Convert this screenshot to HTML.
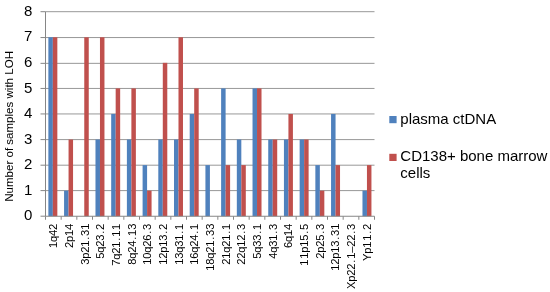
<!DOCTYPE html>
<html><head><meta charset="utf-8"><title>LOH chart</title>
<style>html,body{margin:0;padding:0;background:#fff}svg{display:block}text{font-family:"Liberation Sans",sans-serif;fill:#000;font-kerning:none}</style></head>
<body>
<svg width="550" height="292" viewBox="0 0 550 292">
<rect width="550" height="292" fill="#fff"/>
<g stroke="#989898" stroke-width="1" fill="none">
<line x1="45.5" y1="190.60" x2="374.5" y2="190.60"/>
<line x1="45.5" y1="165.20" x2="374.5" y2="165.20"/>
<line x1="45.5" y1="139.60" x2="374.5" y2="139.60"/>
<line x1="45.5" y1="113.95" x2="374.5" y2="113.95"/>
<line x1="45.5" y1="88.45" x2="374.5" y2="88.45"/>
<line x1="45.5" y1="63.35" x2="374.5" y2="63.35"/>
<line x1="45.5" y1="37.55" x2="374.5" y2="37.55"/>
<line x1="45.5" y1="11.70" x2="374.5" y2="11.70"/>
</g>
<g fill="#4F81BD">
<rect x="48.37" y="37.27" width="4.49" height="178.98"/>
<rect x="64.07" y="190.68" width="4.49" height="25.57"/>
<rect x="95.48" y="139.54" width="4.49" height="76.71"/>
<rect x="111.19" y="113.97" width="4.49" height="102.28"/>
<rect x="126.89" y="139.54" width="4.49" height="76.71"/>
<rect x="142.60" y="165.11" width="4.49" height="51.14"/>
<rect x="158.30" y="139.54" width="4.49" height="76.71"/>
<rect x="174.01" y="139.54" width="4.49" height="76.71"/>
<rect x="189.71" y="113.97" width="4.49" height="102.28"/>
<rect x="205.42" y="165.11" width="4.49" height="51.14"/>
<rect x="221.12" y="88.41" width="4.49" height="127.84"/>
<rect x="236.83" y="139.54" width="4.49" height="76.71"/>
<rect x="252.53" y="88.41" width="4.49" height="127.84"/>
<rect x="268.24" y="139.54" width="4.49" height="76.71"/>
<rect x="283.94" y="139.54" width="4.49" height="76.71"/>
<rect x="299.65" y="139.54" width="4.49" height="76.71"/>
<rect x="315.35" y="165.11" width="4.49" height="51.14"/>
<rect x="331.06" y="113.97" width="4.49" height="102.28"/>
<rect x="362.47" y="190.68" width="4.49" height="25.57"/>
</g><g fill="#C0504D">
<rect x="52.85" y="37.27" width="4.49" height="178.98"/>
<rect x="68.56" y="139.54" width="4.49" height="76.71"/>
<rect x="84.26" y="37.27" width="4.49" height="178.98"/>
<rect x="99.97" y="37.27" width="4.49" height="178.98"/>
<rect x="115.67" y="88.41" width="4.49" height="127.84"/>
<rect x="131.38" y="88.41" width="4.49" height="127.84"/>
<rect x="147.08" y="190.68" width="4.49" height="25.57"/>
<rect x="162.79" y="62.84" width="4.49" height="153.41"/>
<rect x="178.49" y="37.27" width="4.49" height="178.98"/>
<rect x="194.20" y="88.41" width="4.49" height="127.84"/>
<rect x="225.61" y="165.11" width="4.49" height="51.14"/>
<rect x="241.31" y="165.11" width="4.49" height="51.14"/>
<rect x="257.02" y="88.41" width="4.49" height="127.84"/>
<rect x="272.72" y="139.54" width="4.49" height="76.71"/>
<rect x="288.43" y="113.97" width="4.49" height="102.28"/>
<rect x="304.13" y="139.54" width="4.49" height="76.71"/>
<rect x="319.84" y="190.68" width="4.49" height="25.57"/>
<rect x="335.54" y="165.11" width="4.49" height="51.14"/>
<rect x="366.95" y="165.11" width="4.49" height="51.14"/>
</g>
<g stroke="#868686" stroke-width="1" fill="none">
<line x1="45.5" y1="11.7" x2="45.5" y2="216.25"/>
<line x1="45.5" y1="216.25" x2="374.5" y2="216.25"/>
<line x1="40.5" y1="216.20" x2="45.5" y2="216.20"/>
<line x1="40.5" y1="190.60" x2="45.5" y2="190.60"/>
<line x1="40.5" y1="165.20" x2="45.5" y2="165.20"/>
<line x1="40.5" y1="139.60" x2="45.5" y2="139.60"/>
<line x1="40.5" y1="113.95" x2="45.5" y2="113.95"/>
<line x1="40.5" y1="88.45" x2="45.5" y2="88.45"/>
<line x1="40.5" y1="63.35" x2="45.5" y2="63.35"/>
<line x1="40.5" y1="37.55" x2="45.5" y2="37.55"/>
<line x1="40.5" y1="11.70" x2="45.5" y2="11.70"/>
<line x1="45.50" y1="216.25" x2="45.50" y2="219.75"/>
<line x1="61.17" y1="216.25" x2="61.17" y2="219.75"/>
<line x1="76.83" y1="216.25" x2="76.83" y2="219.75"/>
<line x1="92.50" y1="216.25" x2="92.50" y2="219.75"/>
<line x1="108.17" y1="216.25" x2="108.17" y2="219.75"/>
<line x1="123.83" y1="216.25" x2="123.83" y2="219.75"/>
<line x1="139.50" y1="216.25" x2="139.50" y2="219.75"/>
<line x1="155.17" y1="216.25" x2="155.17" y2="219.75"/>
<line x1="170.83" y1="216.25" x2="170.83" y2="219.75"/>
<line x1="186.50" y1="216.25" x2="186.50" y2="219.75"/>
<line x1="202.17" y1="216.25" x2="202.17" y2="219.75"/>
<line x1="217.83" y1="216.25" x2="217.83" y2="219.75"/>
<line x1="233.50" y1="216.25" x2="233.50" y2="219.75"/>
<line x1="249.17" y1="216.25" x2="249.17" y2="219.75"/>
<line x1="264.83" y1="216.25" x2="264.83" y2="219.75"/>
<line x1="280.50" y1="216.25" x2="280.50" y2="219.75"/>
<line x1="296.17" y1="216.25" x2="296.17" y2="219.75"/>
<line x1="311.83" y1="216.25" x2="311.83" y2="219.75"/>
<line x1="327.50" y1="216.25" x2="327.50" y2="219.75"/>
<line x1="343.17" y1="216.25" x2="343.17" y2="219.75"/>
<line x1="358.83" y1="216.25" x2="358.83" y2="219.75"/>
<line x1="374.50" y1="216.25" x2="374.50" y2="219.75"/>
</g>
<g font-size="15" text-anchor="end">
<text x="32.3" y="220.05">0</text>
<text x="32.3" y="194.88">1</text>
<text x="32.3" y="169.21">2</text>
<text x="32.3" y="143.74">3</text>
<text x="32.3" y="118.47">4</text>
<text x="32.3" y="92.91">5</text>
<text x="32.3" y="67.34">6</text>
<text x="32.3" y="41.17">7</text>
<text x="32.3" y="16.20">8</text>
</g>
<g font-size="11.2" text-anchor="end" letter-spacing="-0.2">
<text transform="translate(57.33,223.85) rotate(-90)">1q42</text>
<text transform="translate(73.00,223.85) rotate(-90)">2p14</text>
<text transform="translate(88.67,223.85) rotate(-90)" dx="0 0 0 0 0.95 0.95">3p21.31</text>
<text transform="translate(104.33,223.85) rotate(-90)" dx="0 0 0 0 0.95 0.95">5q23.2</text>
<text transform="translate(120.00,223.85) rotate(-90)" dx="0 0 0 0 0.95 0.95 0.9">7q21.11</text>
<text transform="translate(135.67,223.85) rotate(-90)" dx="0 0 0 0 0.95 0.95">8q24.13</text>
<text transform="translate(151.33,223.85) rotate(-90)" dx="0 0 0 0 0 0.95 0.95">10q26.3</text>
<text transform="translate(167.00,223.85) rotate(-90)" dx="0 0 0 0 0 0.95 0.95">12p13.2</text>
<text transform="translate(182.67,223.85) rotate(-90)" dx="0 0 0 0 0 0.95 0.95">13q31.1</text>
<text transform="translate(198.33,223.85) rotate(-90)" dx="0 0 0 0 0 0.95 0.95">16q24.1</text>
<text transform="translate(214.00,223.85) rotate(-90)" dx="0 0 0 0 0 0.95 0.95">18q21.33</text>
<text transform="translate(229.67,223.85) rotate(-90)" dx="0 0 0 0 0 0.95 0.95">21q21.1</text>
<text transform="translate(245.33,223.85) rotate(-90)" dx="0 0 0 0 0 0.95 0.95">22q12.3</text>
<text transform="translate(261.00,223.85) rotate(-90)" dx="0 0 0 0 0.95 0.95">5q33.1</text>
<text transform="translate(276.67,223.85) rotate(-90)" dx="0 0 0 0 0.95 0.95">4q31.3</text>
<text transform="translate(292.33,223.85) rotate(-90)">6q14</text>
<text transform="translate(308.00,223.85) rotate(-90)" dx="0 0.9 0 0 0 0.95 0.95">11p15.5</text>
<text transform="translate(323.67,223.85) rotate(-90)" dx="0 0 0 0 0.95 0.95">2p25.3</text>
<text transform="translate(339.33,223.85) rotate(-90)" dx="0 0 0 0 0 0.95 0.95">12p13.31</text>
<text transform="translate(355.00,223.85) rotate(-90)" dx="0 0 0 0 0.95 0.95 0 0 0 0.95 0.95">Xp22.1–22.3</text>
<text transform="translate(370.67,223.85) rotate(-90)" dx="0 0 0 0.9 0.95 0.95">Yp11.2</text>
</g>
<text font-size="11.55" text-anchor="end" transform="translate(12.6,51.0) rotate(-90)">Number of samples with LOH</text>
<rect x="389.3" y="116.0" width="7.3" height="7.2" fill="#4F81BD"/>
<rect x="389.3" y="153.8" width="7.3" height="7.2" fill="#C0504D"/>
<g font-size="15"><text x="400.3" y="123.5">plasma ctDNA</text><text x="400.3" y="160.7">CD138+ bone marrow</text><text x="400.3" y="178.0">cells</text></g>
</svg>
</body></html>
